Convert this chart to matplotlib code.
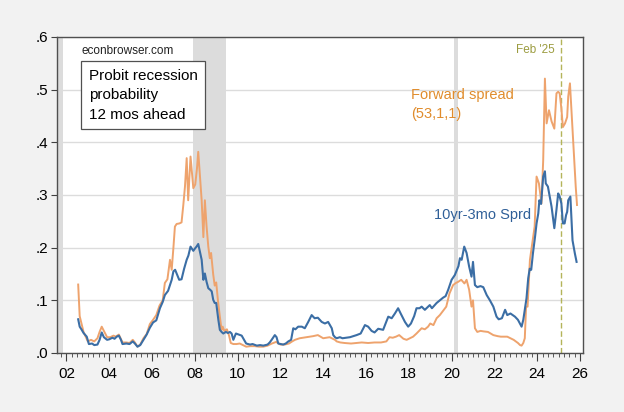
import numpy as np
import matplotlib
matplotlib.use('Agg')
import matplotlib.pyplot as plt
from matplotlib.ticker import MultipleLocator, FuncFormatter

plt.rcParams['font.family'] = ['Liberation Sans', 'DejaVu Sans']

# 10yr-3mo spread probit (decimal year, probability)
spread_t = [2002.55, 2002.62, 2002.7, 2002.8, 2002.95, 2003.05, 2003.2, 2003.3, 2003.45, 2003.55,
            2003.65, 2003.75, 2003.9, 2004.0, 2004.15, 2004.25, 2004.35, 2004.45, 2004.55, 2004.62,
            2004.8, 2004.95, 2005.1, 2005.2, 2005.32, 2005.45, 2005.6, 2005.75, 2005.9, 2006.05,
            2006.2, 2006.37, 2006.5, 2006.6, 2006.75, 2006.92, 2007.0, 2007.08, 2007.18, 2007.27,
            2007.38, 2007.5, 2007.62, 2007.7, 2007.8, 2007.93, 2008.0, 2008.08, 2008.16, 2008.25,
            2008.32, 2008.4, 2008.47, 2008.55, 2008.63, 2008.72, 2008.79, 2008.86, 2008.93, 2009.0,
            2009.1, 2009.17, 2009.25, 2009.33, 2009.45, 2009.55, 2009.64, 2009.72, 2009.8, 2009.92,
            2010.05, 2010.19, 2010.3, 2010.4, 2010.58, 2010.7, 2010.9, 2011.05, 2011.2, 2011.4,
            2011.5, 2011.59, 2011.74, 2011.82, 2011.9, 2012.13, 2012.25, 2012.37, 2012.5, 2012.6,
            2012.7, 2012.83, 2013.0, 2013.14, 2013.3, 2013.46, 2013.6, 2013.75, 2013.93, 2014.08,
            2014.23, 2014.4, 2014.47, 2014.55, 2014.63, 2014.78, 2014.9, 2015.25, 2015.4, 2015.56,
            2015.75, 2015.95, 2016.1, 2016.26, 2016.4, 2016.57, 2016.8, 2017.04, 2017.2, 2017.35,
            2017.5, 2017.62, 2017.82, 2017.97, 2018.1, 2018.25, 2018.36, 2018.5, 2018.6, 2018.75,
            2018.9, 2018.98, 2019.08, 2019.3, 2019.45, 2019.6, 2019.72, 2019.84, 2020.0, 2020.15,
            2020.25, 2020.32, 2020.39, 2020.47, 2020.59, 2020.7, 2020.82, 2020.93, 2021.0, 2021.09,
            2021.2, 2021.35, 2021.48, 2021.64, 2021.79, 2021.95, 2022.1, 2022.2, 2022.35, 2022.5,
            2022.6, 2022.75, 2022.96, 2023.1, 2023.27, 2023.35, 2023.5, 2023.58, 2023.65, 2023.72,
            2023.8, 2023.9, 2023.97, 2024.05, 2024.1, 2024.18, 2024.28, 2024.36, 2024.4, 2024.5,
            2024.67, 2024.8, 2024.9, 2024.98, 2025.05, 2025.13, 2025.2, 2025.28, 2025.35, 2025.4,
            2025.45, 2025.55, 2025.65, 2025.76, 2025.84]
spread_p = [0.064, 0.05, 0.045, 0.038, 0.031, 0.017, 0.018, 0.015, 0.016, 0.025,
            0.039, 0.03, 0.025, 0.026, 0.029, 0.027, 0.031, 0.033, 0.025, 0.017,
            0.018, 0.017, 0.022, 0.018, 0.012, 0.015, 0.025, 0.035, 0.048, 0.058,
            0.062, 0.085, 0.097, 0.11, 0.118, 0.139, 0.155, 0.158, 0.148, 0.139,
            0.14, 0.16, 0.177, 0.185, 0.202, 0.194, 0.198, 0.202, 0.207, 0.19,
            0.177, 0.139, 0.151, 0.135, 0.123, 0.12, 0.117, 0.101, 0.095, 0.095,
            0.063, 0.044, 0.04, 0.037, 0.04, 0.038, 0.04, 0.037, 0.025, 0.037,
            0.035, 0.033, 0.025, 0.018, 0.016, 0.017, 0.014, 0.015, 0.014, 0.016,
            0.02, 0.025, 0.034, 0.03, 0.018, 0.016, 0.018, 0.022, 0.025, 0.047,
            0.045, 0.05, 0.05, 0.047, 0.059, 0.072, 0.066, 0.067, 0.059, 0.056,
            0.059, 0.047, 0.034, 0.03, 0.028, 0.03, 0.028, 0.03, 0.032, 0.034,
            0.037, 0.053, 0.05, 0.042, 0.039, 0.046, 0.044, 0.069, 0.066, 0.075,
            0.085, 0.075, 0.059, 0.05, 0.056, 0.07, 0.085, 0.085, 0.088, 0.082,
            0.088, 0.091, 0.085, 0.095, 0.1, 0.105, 0.108, 0.12, 0.139, 0.148,
            0.158, 0.165, 0.18, 0.177, 0.202, 0.19, 0.164, 0.145, 0.173, 0.129,
            0.125, 0.127, 0.125, 0.11, 0.1, 0.088, 0.069, 0.064, 0.066, 0.082,
            0.072, 0.075, 0.069, 0.063, 0.05, 0.063, 0.104, 0.142, 0.16, 0.158,
            0.189, 0.221, 0.246, 0.265, 0.29, 0.283, 0.335, 0.345, 0.322, 0.316,
            0.278, 0.237, 0.272, 0.303, 0.297, 0.284, 0.246, 0.246, 0.262, 0.268,
            0.29, 0.297, 0.214, 0.189, 0.173]

# Forward spread (53,1,1) probit
fwd_t = [2002.55, 2002.62, 2002.7, 2002.8, 2002.9, 2003.0, 2003.15, 2003.3, 2003.45, 2003.55,
         2003.65, 2003.75, 2003.9, 2004.05, 2004.2, 2004.3, 2004.45, 2004.55, 2004.62, 2004.8,
         2004.95, 2005.1, 2005.2, 2005.32, 2005.45, 2005.6, 2005.75, 2005.9, 2006.05, 2006.2,
         2006.35, 2006.5, 2006.6, 2006.72, 2006.84, 2006.92, 2007.0, 2007.07, 2007.15, 2007.28,
         2007.38, 2007.46, 2007.54, 2007.62, 2007.69, 2007.8, 2007.93, 2008.02, 2008.1, 2008.16,
         2008.25, 2008.32, 2008.4, 2008.47, 2008.55, 2008.63, 2008.7, 2008.76, 2008.86, 2008.93,
         2009.0, 2009.08, 2009.17, 2009.25, 2009.3, 2009.38, 2009.5, 2009.6, 2009.68, 2009.8,
         2009.95, 2010.1, 2010.25, 2010.4, 2010.6, 2010.8, 2011.0, 2011.2, 2011.4, 2011.6,
         2011.8, 2012.0, 2012.2, 2012.4, 2012.55, 2012.68, 2012.9, 2013.2, 2013.35, 2013.53,
         2013.75, 2014.0, 2014.3, 2014.55, 2014.63, 2014.8, 2015.0, 2015.3, 2015.55, 2015.8,
         2016.1, 2016.4, 2016.7, 2016.95, 2017.1, 2017.25, 2017.4, 2017.55, 2017.75, 2017.9,
         2018.05, 2018.2, 2018.36, 2018.6, 2018.75, 2018.9, 2019.0, 2019.15, 2019.3, 2019.45,
         2019.6, 2019.75, 2019.9, 2020.07, 2020.2, 2020.3, 2020.45, 2020.6, 2020.7, 2020.82,
         2020.93, 2021.0, 2021.09, 2021.2, 2021.35, 2021.5, 2021.7, 2021.95, 2022.15, 2022.3,
         2022.6, 2022.75, 2022.9, 2023.1, 2023.2, 2023.27, 2023.35, 2023.42, 2023.48, 2023.55,
         2023.66, 2023.77, 2023.88, 2023.97, 2024.08, 2024.2, 2024.28, 2024.36, 2024.44, 2024.55,
         2024.67, 2024.8, 2024.9, 2024.98, 2025.05, 2025.13, 2025.2, 2025.3, 2025.4, 2025.45,
         2025.53, 2025.6, 2025.69, 2025.8, 2025.86]
fwd_p = [0.13, 0.07, 0.057, 0.04, 0.031, 0.022, 0.025, 0.022, 0.028, 0.04,
         0.05, 0.042, 0.03, 0.03, 0.033, 0.031, 0.035, 0.026, 0.02, 0.02,
         0.019, 0.025, 0.02, 0.012, 0.016, 0.028, 0.036, 0.055, 0.063, 0.072,
         0.09, 0.1, 0.133, 0.14, 0.177, 0.158, 0.2, 0.24, 0.245, 0.246,
         0.248, 0.28, 0.316, 0.37, 0.29, 0.373, 0.313, 0.32, 0.35, 0.382,
         0.33, 0.29, 0.22, 0.29, 0.24, 0.202, 0.18, 0.19, 0.149, 0.128,
         0.134, 0.1, 0.069, 0.044, 0.05, 0.042, 0.045, 0.033, 0.019, 0.017,
         0.017, 0.018, 0.015, 0.012, 0.013, 0.013, 0.012, 0.012, 0.014, 0.018,
         0.021, 0.016, 0.016, 0.018, 0.022, 0.025, 0.028, 0.03, 0.031, 0.032,
         0.034, 0.028, 0.03, 0.025, 0.022, 0.02, 0.019, 0.018, 0.019, 0.02,
         0.019, 0.02, 0.02, 0.022, 0.03, 0.029, 0.031, 0.034, 0.027, 0.025,
         0.028, 0.031, 0.037, 0.047, 0.045, 0.05, 0.056, 0.053, 0.066, 0.072,
         0.08, 0.088, 0.113, 0.129, 0.133, 0.135, 0.139, 0.132, 0.139, 0.12,
         0.088, 0.1, 0.047, 0.04, 0.042, 0.041, 0.04, 0.034, 0.032, 0.031,
         0.031, 0.028, 0.025, 0.019, 0.015, 0.014, 0.019, 0.028, 0.088, 0.088,
         0.177, 0.208, 0.24, 0.335, 0.322, 0.284, 0.366, 0.521, 0.436, 0.461,
         0.44, 0.426, 0.493, 0.496, 0.493, 0.464, 0.429, 0.436, 0.448, 0.487,
         0.512, 0.461, 0.398, 0.316, 0.281]

# NBER recessions (start, end)
recessions = [(2001.2, 2001.85), (2007.92, 2009.47), (2020.1, 2020.3)]
marker_date = 2025.1

BLUE = '#3b6ea5'
ORANGE = '#eea36d'

fig = plt.figure(figsize=(6.24, 4.12), dpi=100, facecolor='#f2f2f2')
ax = fig.add_axes([57 / 624, 1 - 353 / 412, 526 / 624, 316 / 412])
ax.set_facecolor('white')

for a, b in recessions:
    ax.axvspan(a, b, color='#dcdcdc', lw=0, zorder=0)

ax.grid(axis='y', color='#dcdcdc', lw=1.0, zorder=1)
ax.set_axisbelow(True)

ax.plot(fwd_t, fwd_p, color=ORANGE, lw=1.4, zorder=3)
ax.plot(spread_t, spread_p, color=BLUE, lw=1.5, zorder=4)

ax.axvline(marker_date, color='#b4b45a', lw=1.0, ls=(0, (4, 2)), zorder=2)

ax.set_xlim(2001.56, 2026.14)
ax.set_ylim(0, 0.6)

ax.yaxis.set_major_locator(MultipleLocator(0.1))
ax.yaxis.set_major_formatter(FuncFormatter(lambda v, p: ('%.1f' % v)[1:]))
ax.xaxis.set_major_locator(MultipleLocator(2))
ax.xaxis.set_minor_locator(MultipleLocator(0.25))
ax.xaxis.set_major_formatter(FuncFormatter(lambda v, p: '%02d' % (int(round(v)) % 100)))

ax.tick_params(axis='y', labelsize=11, length=4, color='#404040', pad=2)
ax.tick_params(axis='x', which='major', labelsize=11, length=6, color='#404040', pad=4)
ax.tick_params(axis='x', which='minor', length=3, color='#404040')
for s in ax.spines.values():
    s.set_color('#505050')
    s.set_linewidth(1.0)

ax.text(0.0475, 0.975, 'econbrowser.com', transform=ax.transAxes, fontsize=8.5,
        color='#222222', va='top', ha='left')
ax.text(0.0608, 0.9, 'Probit recession\nprobability\n12 mos ahead', transform=ax.transAxes,
        fontsize=11, va='top', ha='left', linespacing=1.5, color='black',
        bbox=dict(boxstyle='square,pad=0.5', fc='white', ec='#505050', lw=0.9))
ax.text(2018.1, 0.504, 'Forward spread\n(53,1,1)', fontsize=10.5, color='#e08c2c',
        va='top', ha='left', linespacing=1.45)
ax.text(2019.2, 0.262, '10yr-3mo Sprd', fontsize=10.5, color='#2f5f98',
        va='center', ha='left')
ax.text(marker_date - 0.3, 0.587, "Feb '25", fontsize=8.5, color='#9c9c40',
        va='top', ha='right')

fig.savefig('out.png', dpi=100, facecolor=fig.get_facecolor())
